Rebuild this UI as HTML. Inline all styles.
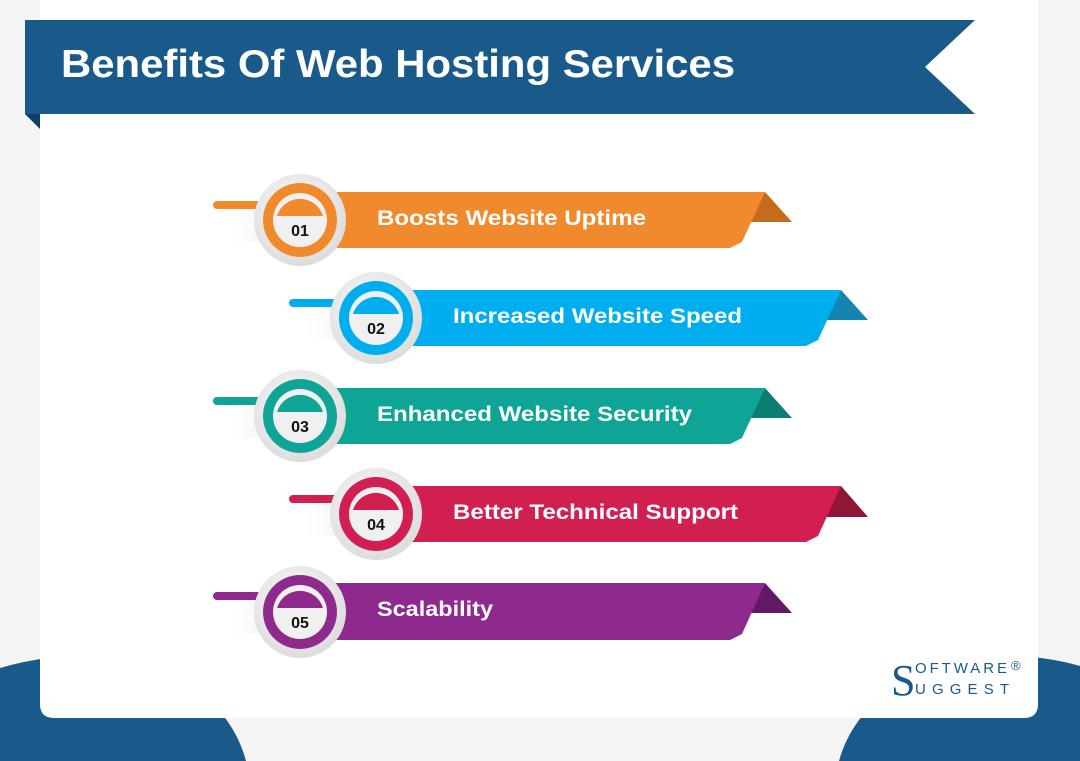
<!DOCTYPE html>
<html><head><meta charset="utf-8"><style>
html,body{margin:0;padding:0;background:#f4f4f4;width:1080px;height:761px;overflow:hidden;}
svg{display:block;font-family:"Liberation Sans",sans-serif;}
</style></head><body>
<svg width="1080" height="761" viewBox="0 0 1080 761" xmlns="http://www.w3.org/2000/svg">
<defs>
<radialGradient id="g" cx="0.45" cy="0.4" r="0.6"><stop offset="0" stop-color="#ffffff"/><stop offset="1" stop-color="#dcdcdc"/></radialGradient>
<linearGradient id="sh" x1="0" y1="0" x2="1" y2="0"><stop offset="0" stop-color="#f4f4f4" stop-opacity="0"/><stop offset="1" stop-color="#e6e6e6"/></linearGradient>
</defs>
<rect width="1080" height="761" fill="#f4f4f4"/>
<path d="M0,761 L0,668 Q40,656 90,655 A160,135 0 0 1 246,761 Z" fill="#1a5a8a"/>
<path d="M839,761 A165,135 0 0 1 1000,655 Q1045,656 1080,666 L1080,761 Z" fill="#1a5a8a"/>
<path d="M40,0 L1038,0 L1038,704 Q1038,718 1024,718 L54,718 Q40,718 40,704 Z" fill="#ffffff"/>
<polygon points="25,114 40,114 40,129" fill="#0f3f63"/>
<polygon points="25,20 975,20 925,67 975,114 25,114" fill="#1a5a8a"/>
<text x="61" y="77" font-size="39" font-weight="bold" fill="#ffffff" textLength="674" lengthAdjust="spacingAndGlyphs">Benefits Of Web Hosting Services</text>

<g>
<rect x="230" y="206" width="60" height="36" fill="url(#sh)"/>
<rect x="213" y="201" width="60" height="8" rx="4" fill="#f08a2c"/>
<polygon points="765,192 792,222 750,222" fill="#c46b1c"/>
<polygon points="330,192 765,192 742,242 730,248 330,248" fill="#f08a2c"/>
<circle cx="300" cy="220" r="46" fill="url(#g)"/>
<circle cx="300" cy="220" r="37" fill="#f08a2c"/>
<circle cx="300" cy="220" r="27" fill="#f0f0f0"/>
<path d="M277,216 A24,24 0 0 1 323,216 Z" fill="#f08a2c"/>
<text x="300" y="236" font-size="16" font-weight="bold" fill="#111" text-anchor="middle">01</text>
<text x="377" y="225" font-size="21" font-weight="bold" fill="#fff" textLength="269" lengthAdjust="spacingAndGlyphs">Boosts Website Uptime</text>
</g>
<g>
<rect x="306" y="304" width="60" height="36" fill="url(#sh)"/>
<rect x="289" y="299" width="60" height="8" rx="4" fill="#00aeef"/>
<polygon points="841,290 868,320 826,320" fill="#1485b0"/>
<polygon points="406,290 841,290 818,340 806,346 406,346" fill="#00aeef"/>
<circle cx="376" cy="318" r="46" fill="url(#g)"/>
<circle cx="376" cy="318" r="37" fill="#00aeef"/>
<circle cx="376" cy="318" r="27" fill="#f0f0f0"/>
<path d="M353,314 A24,24 0 0 1 399,314 Z" fill="#00aeef"/>
<text x="376" y="334" font-size="16" font-weight="bold" fill="#111" text-anchor="middle">02</text>
<text x="453" y="323" font-size="21" font-weight="bold" fill="#fff" textLength="289" lengthAdjust="spacingAndGlyphs">Increased Website Speed</text>
</g>
<g>
<rect x="230" y="402" width="60" height="36" fill="url(#sh)"/>
<rect x="213" y="397" width="60" height="8" rx="4" fill="#0fa596"/>
<polygon points="765,388 792,418 750,418" fill="#0b7e72"/>
<polygon points="330,388 765,388 742,438 730,444 330,444" fill="#0fa596"/>
<circle cx="300" cy="416" r="46" fill="url(#g)"/>
<circle cx="300" cy="416" r="37" fill="#0fa596"/>
<circle cx="300" cy="416" r="27" fill="#f0f0f0"/>
<path d="M277,412 A24,24 0 0 1 323,412 Z" fill="#0fa596"/>
<text x="300" y="432" font-size="16" font-weight="bold" fill="#111" text-anchor="middle">03</text>
<text x="377" y="421" font-size="21" font-weight="bold" fill="#fff" textLength="315" lengthAdjust="spacingAndGlyphs">Enhanced Website Security</text>
</g>
<g>
<rect x="306" y="500" width="60" height="36" fill="url(#sh)"/>
<rect x="289" y="495" width="60" height="8" rx="4" fill="#d21f51"/>
<polygon points="841,486 868,517 824,517" fill="#8f1636"/>
<polygon points="406,486 841,486 818,536 806,542 406,542" fill="#d21f51"/>
<circle cx="376" cy="514" r="46" fill="url(#g)"/>
<circle cx="376" cy="514" r="37" fill="#d21f51"/>
<circle cx="376" cy="514" r="27" fill="#f0f0f0"/>
<path d="M353,510 A24,24 0 0 1 399,510 Z" fill="#d21f51"/>
<text x="376" y="530" font-size="16" font-weight="bold" fill="#111" text-anchor="middle">04</text>
<text x="453" y="519" font-size="21" font-weight="bold" fill="#fff" textLength="285" lengthAdjust="spacingAndGlyphs">Better Technical Support</text>
</g>
<g>
<rect x="230" y="598" width="60" height="36" fill="url(#sh)"/>
<rect x="213" y="592" width="60" height="8" rx="4" fill="#8e2a8e"/>
<polygon points="765,583 792,613 750,613" fill="#62196a"/>
<polygon points="330,583 765,583 742,634 730,640 330,640" fill="#8e2a8e"/>
<circle cx="300" cy="612" r="46" fill="url(#g)"/>
<circle cx="300" cy="612" r="37" fill="#8e2a8e"/>
<circle cx="300" cy="612" r="27" fill="#f0f0f0"/>
<path d="M277,608 A24,24 0 0 1 323,608 Z" fill="#8e2a8e"/>
<text x="300" y="628" font-size="16" font-weight="bold" fill="#111" text-anchor="middle">05</text>
<text x="377" y="616" font-size="21" font-weight="bold" fill="#fff" textLength="116" lengthAdjust="spacingAndGlyphs">Scalability</text>
</g>

<text x="891" y="695" font-size="44" fill="#1a5a8a" font-family="Liberation Serif,serif">S</text>
<text x="915" y="673" font-size="15" fill="#1a5a8a" textLength="92" lengthAdjust="spacing">OFTWARE</text>
<text x="1011" y="670" font-size="13" fill="#1a5a8a">®</text>
<text x="915" y="694" font-size="15" fill="#1a5a8a" textLength="94" lengthAdjust="spacing">UGGEST</text>
</svg>
</body></html>
